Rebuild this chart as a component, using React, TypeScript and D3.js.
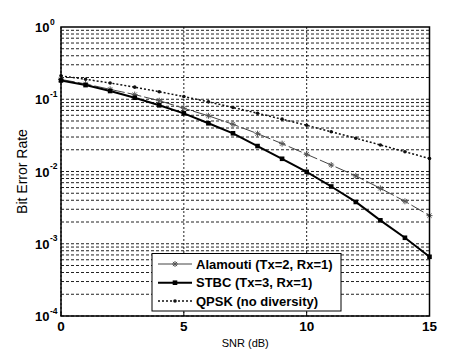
import React from "react";
import * as d3 from "d3";

const snr = [0, 1, 2, 3, 4, 5, 6, 7, 8, 9, 10, 11, 12, 13, 14, 15];
const alamouti = [0.188, 0.163, 0.137, 0.116, 0.0955, 0.075, 0.059, 0.045, 0.0334, 0.0243, 0.0173, 0.0123, 0.0087, 0.00585, 0.00387, 0.00245];
const stbc = [0.182, 0.157, 0.13, 0.105, 0.0824, 0.0638, 0.0465, 0.0338, 0.0225, 0.015, 0.0099, 0.0062, 0.00379, 0.00211, 0.00121, 0.00066];
const qpsk = [0.211, 0.189, 0.168, 0.147, 0.127, 0.109, 0.092, 0.077, 0.064, 0.053, 0.0436, 0.0355, 0.0289, 0.0233, 0.0188, 0.0151];
const xTicks = [0, 5, 10, 15];
const yDecades = [0, -1, -2, -3, -4];
const legendLabels = ["Alamouti (Tx=2, Rx=1)", "STBC (Tx=3, Rx=1)", "QPSK (no diversity)"];

const W = 474, H = 355;
const L = 61, R = 429.5, T = 27, B = 316;

export default function App() {
  const x = d3.scaleLinear().domain([0, 15]).range([L, R]);
  const y = d3.scaleLog().domain([1e-4, 1]).range([B, T]);
  const line = (vals: number[]) =>
    d3.line<number>().x((_, i) => x(snr[i])).y((v) => y(v))(vals) || "";

  const minor: number[] = [];
  for (let e = -4; e < 0; e++) for (let m = 1; m <= 9; m++) minor.push(m * Math.pow(10, e));

  const font = "Liberation Sans, Arial, sans-serif";

  const star = (cx: number, cy: number, r: number, color: string, key: any) => (
    <g key={key} stroke={color} strokeWidth={1}>
      <line x1={cx - r} y1={cy} x2={cx + r} y2={cy} />
      <line x1={cx} y1={cy - r} x2={cx} y2={cy + r} />
      <line x1={cx - r * 0.7} y1={cy - r * 0.7} x2={cx + r * 0.7} y2={cy + r * 0.7} />
      <line x1={cx - r * 0.7} y1={cy + r * 0.7} x2={cx + r * 0.7} y2={cy - r * 0.7} />
    </g>
  );

  const lx = 152, ly = 253.5, lw = 189, lh = 57.5;
  const rows = [264, 282.7, 301];

  return (
    <svg width={W} height={H} style={{ position: "absolute", left: 0, top: 0, background: "#fff" }} fontFamily={font}>
      <rect x={0} y={0} width={W} height={H} fill="#fff" />
      {/* horizontal grid */}
      {minor.map((v, i) => (
        <line key={"h" + i} x1={L} x2={R} y1={y(v)} y2={y(v)} stroke="#222" strokeWidth={1} strokeDasharray="3,2" />
      ))}
      {/* vertical grid */}
      {xTicks.map((t) => (
        <line key={"v" + t} x1={x(t)} x2={x(t)} y1={T} y2={B} stroke="#222" strokeWidth={1} strokeDasharray="2,2" />
      ))}
      {/* ticks at bottom */}
      {xTicks.map((t) => (
        <line key={"t" + t} x1={x(t)} x2={x(t)} y1={B} y2={B - 4} stroke="#000" strokeWidth={1} />
      ))}
      {/* series */}
      <path d={line(qpsk)} fill="none" stroke="#111" strokeWidth={1.5} strokeDasharray="2,2" />
      <path d={line(alamouti)} fill="none" stroke="#444" strokeWidth={1} strokeDasharray="14,3" />
      <path d={line(stbc)} fill="none" stroke="#000" strokeWidth={2} />
      {qpsk.map((v, i) => (
        <circle key={"q" + i} cx={x(snr[i])} cy={y(v)} r={1.8} fill="#111" />
      ))}
      {alamouti.map((v, i) => star(x(snr[i]), y(v), 3, "#555", "a" + i))}
      {stbc.map((v, i) => (
        <rect key={"s" + i} x={x(snr[i]) - 2.3} y={y(v) - 2.3} width={4.6} height={4.6} fill="#000" />
      ))}
      {/* frame */}
      <rect x={L} y={T} width={R - L} height={B - T} fill="none" stroke="#000" strokeWidth={1.5} />
      {/* legend */}
      <rect x={lx} y={ly} width={lw} height={lh} fill="#fff" stroke="#000" strokeWidth={1} />
      <line x1={158} x2={192} y1={rows[0]} y2={rows[0]} stroke="#444" strokeWidth={1} />
      {star(175, rows[0], 3, "#555", "la")}
      <line x1={158} x2={192} y1={rows[1]} y2={rows[1]} stroke="#000" strokeWidth={2} />
      <rect x={175 - 2.3} y={rows[1] - 2.3} width={4.6} height={4.6} fill="#000" />
      <line x1={158} x2={192} y1={rows[2]} y2={rows[2]} stroke="#111" strokeWidth={1.5} strokeDasharray="2,2" />
      <circle cx={175} cy={rows[2]} r={1.8} fill="#111" />
      {legendLabels.map((s, i) => (
        <text key={"l" + i} x={196} y={rows[i] + 4.7} fontSize={13} fontWeight="bold" fill="#000">
          {s}
        </text>
      ))}
      {/* y tick labels */}
      {yDecades.map((e) => (
        <g key={"y" + e}>
          <text x={49.5} y={y(Math.pow(10, e)) + 5.2} fontSize={13} fontWeight="bold" textAnchor="end" fill="#000">10</text>
          <text x={50} y={y(Math.pow(10, e)) - 2.5} fontSize={8.5} fontWeight="bold" fill="#000">{e === 0 ? "0" : "-" + Math.abs(e)}</text>
        </g>
      ))}
      {/* x tick labels */}
      {xTicks.map((t) => (
        <text key={"x" + t} x={x(t)} y={330.8} fontSize={13.5} fontWeight="bold" textAnchor="middle" fill="#000">{t}</text>
      ))}
      <text x={(L + R) / 2} y={346.5} fontSize={11} textAnchor="middle" fill="#000">SNR (dB)</text>
      <text transform={`translate(27,${(T + B) / 2}) rotate(-90)`} fontSize={14} textAnchor="middle" fill="#000">Bit Error Rate</text>
    </svg>
  );
}
